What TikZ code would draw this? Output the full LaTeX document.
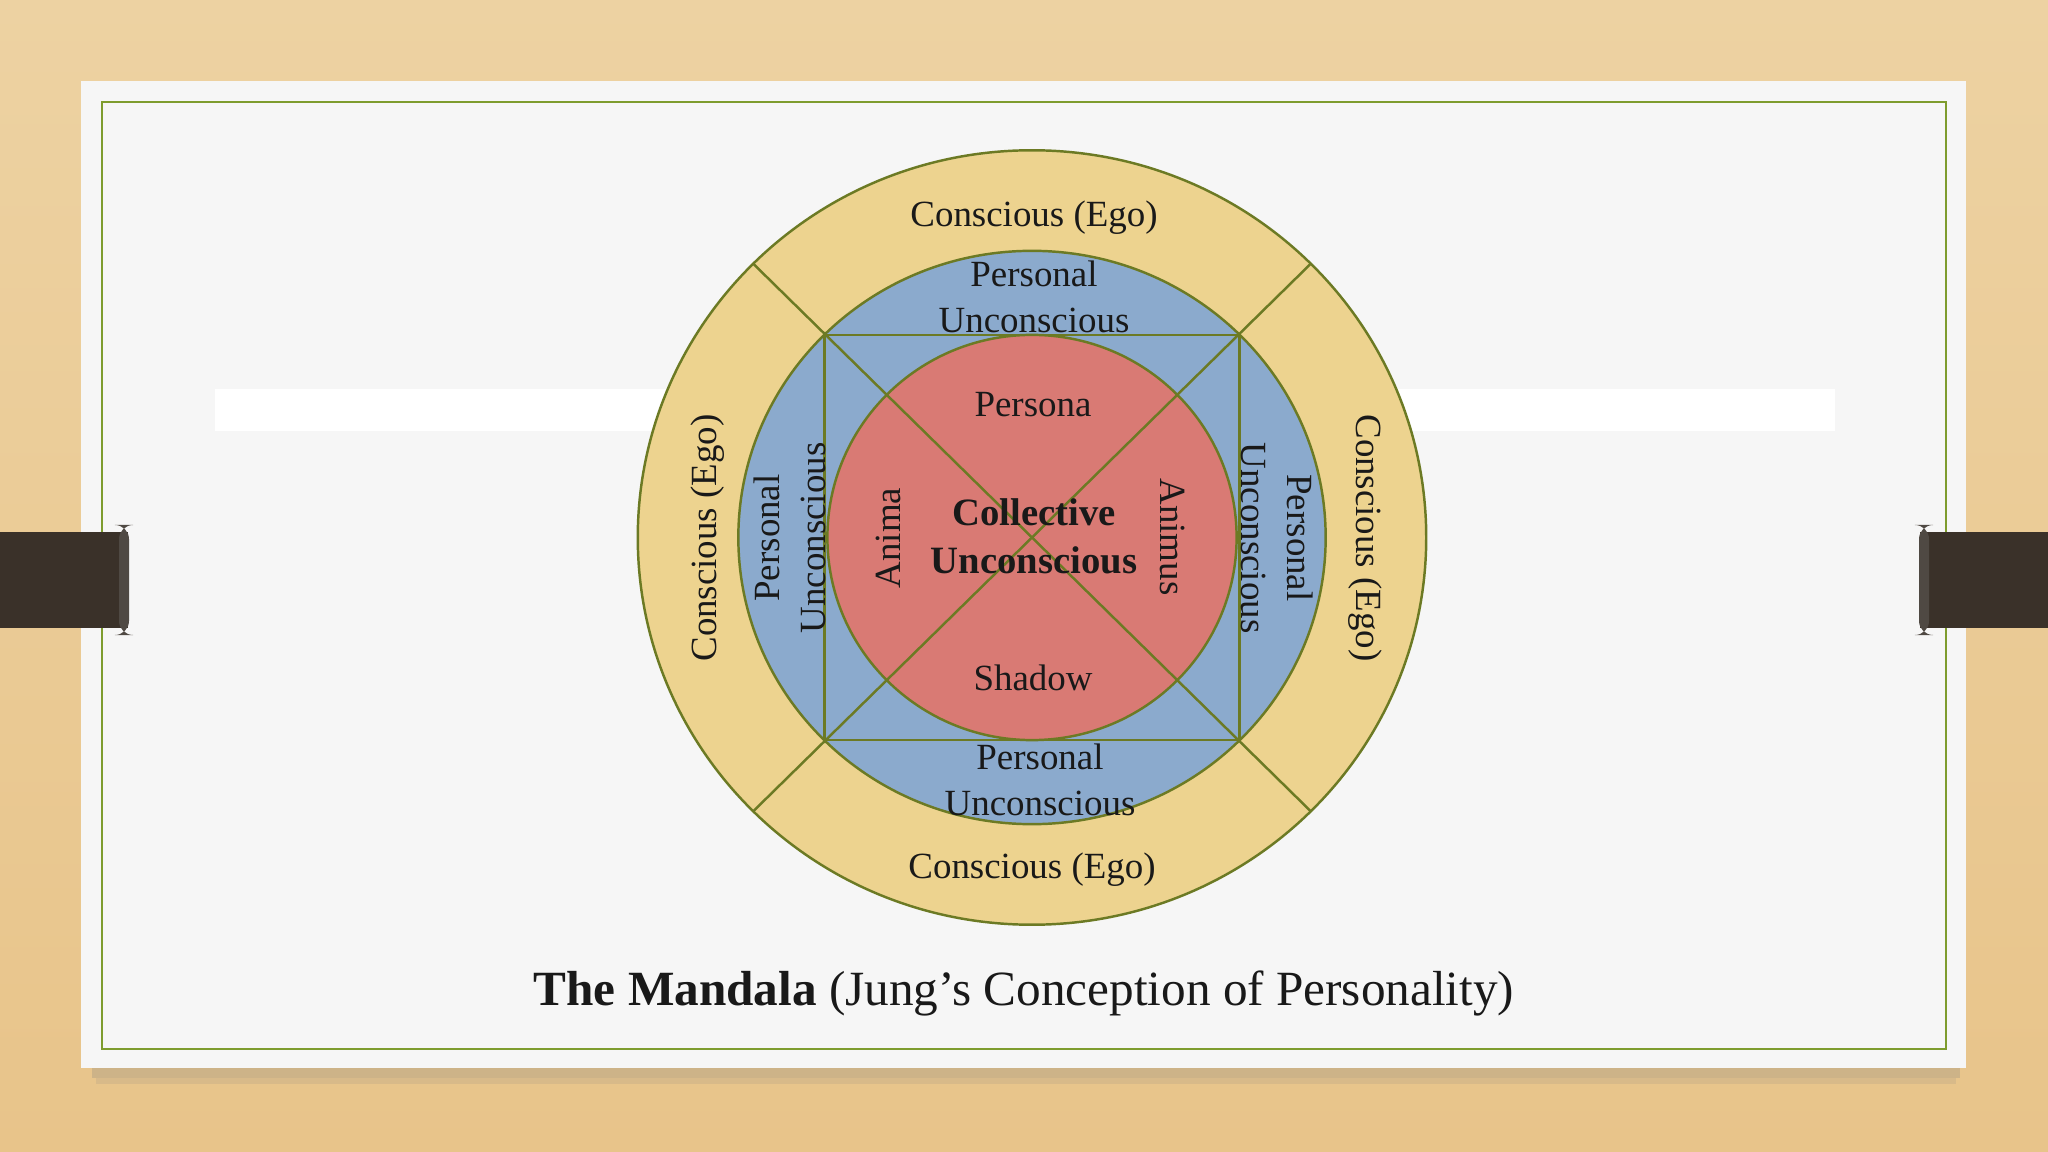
\documentclass[tikz,border=0pt]{standalone}
\usepackage{fontspec}
\setmainfont{Liberation Serif}
\usetikzlibrary{positioning}

\definecolor{wood}{HTML}{E8C48A}
\definecolor{woodlight}{HTML}{EDD2A2}
\definecolor{card}{HTML}{F6F6F6}
\definecolor{frame}{HTML}{7E9C2E}
\definecolor{tabbrown}{HTML}{3A3129}
\definecolor{egotan}{HTML}{EDD38F}
\definecolor{pblue}{HTML}{8BAACD}
\definecolor{cred}{HTML}{D97A74}
\definecolor{olive}{HTML}{6C7A24}

\begin{document}
\begin{tikzpicture}[x=0.01cm, y=-0.01cm]
\tikzstyle{ring} = [draw=olive, line width=0.7pt]
\tikzstyle{lbl} = [align=center, inner sep=0pt, text=black!90, font=\fontsize{10.5}{13.1}\selectfont]
\tikzstyle{tab} = [fill=tabbrown]

\useasboundingbox (0,0) rectangle (2048,1152);

% slide background
\shade[top color=woodlight, bottom color=wood] (0,0) rectangle (2048,1152);
\fill[gray, opacity=0.25] (92,1068) rectangle (1960,1078);
\fill[gray, opacity=0.15] (96,1078) rectangle (1956,1084);
\fill[card] (81,81) rectangle (1966,1068);
\fill[white] (215,389) rectangle (1835,431);
\draw[frame, line width=0.6pt] (102,102) rectangle (1946,1049);

% tabs
\fill[tab] (0,532) rectangle (128,628);
\fill[tab] (1920,532) rectangle (2048,628);
\fill[tabbrown!70!gray, rounded corners=4] (119,525) rectangle (129,635);
\fill[tabbrown!70!gray, rounded corners=4] (1919,525) rectangle (1929,635);

% mandala
\coordinate (c) at (1032,537.5);
\draw[ring, fill=egotan] (c) ellipse [x radius=3.94cm, y radius=3.87cm];
\draw[ring, fill=pblue] (c) ellipse [x radius=2.935cm, y radius=2.865cm];
\draw[ring, fill=cred] (c) ellipse [x radius=2.045cm, y radius=2.025cm];

\coordinate (nw) at (824.5,335);
\coordinate (se) at (1239.5,740);
\draw[ring] (nw) rectangle (se);

\coordinate (onw) at (753.4,263.9);
\coordinate (one) at (1310.6,263.9);
\coordinate (osw) at (753.4,811.1);
\coordinate (ose) at (1310.6,811.1);
\draw[ring] (onw) -- (ose);
\draw[ring] (one) -- (osw);

% labels
\node[lbl] (egotop) at (1034,218) {Conscious (Ego)};
\node[lbl] (putop) at (1034,297) {Personal\\Unconscious};
\node[lbl] (persona) at (1033,405) {Persona};
\node[lbl, font=\fontsize{11}{13.6}\selectfont\bfseries] (coll) at (1034,536) {Collective\\Unconscious};
\node[lbl] (shadow) at (1033,678) {Shadow};
\node[lbl] (pubot) at (1040,780) {Personal\\Unconscious};
\node[lbl] (egobot) at (1032,870) {Conscious (Ego)};

\node[lbl, rotate=90] (egoleft) at (708,538) {Conscious (Ego)};
\node[lbl, rotate=90] (puleft) at (790,538) {Personal\\Unconscious};
\node[lbl, rotate=90] (anima) at (888,538) {Anima};
\node[lbl, rotate=-90] (animus) at (1173,537) {Animus};
\node[lbl, rotate=-90] (puright) at (1277,538) {Personal\\Unconscious};
\node[lbl, rotate=-90] (egoright) at (1365,538) {Conscious (Ego)};

\node[font=\fontsize{14}{17}\selectfont, text=black!90] (title) at (1024,993)
  {\textbf{The Mandala} (Jung’s Conception of Personality)};
\end{tikzpicture}
\end{document}
